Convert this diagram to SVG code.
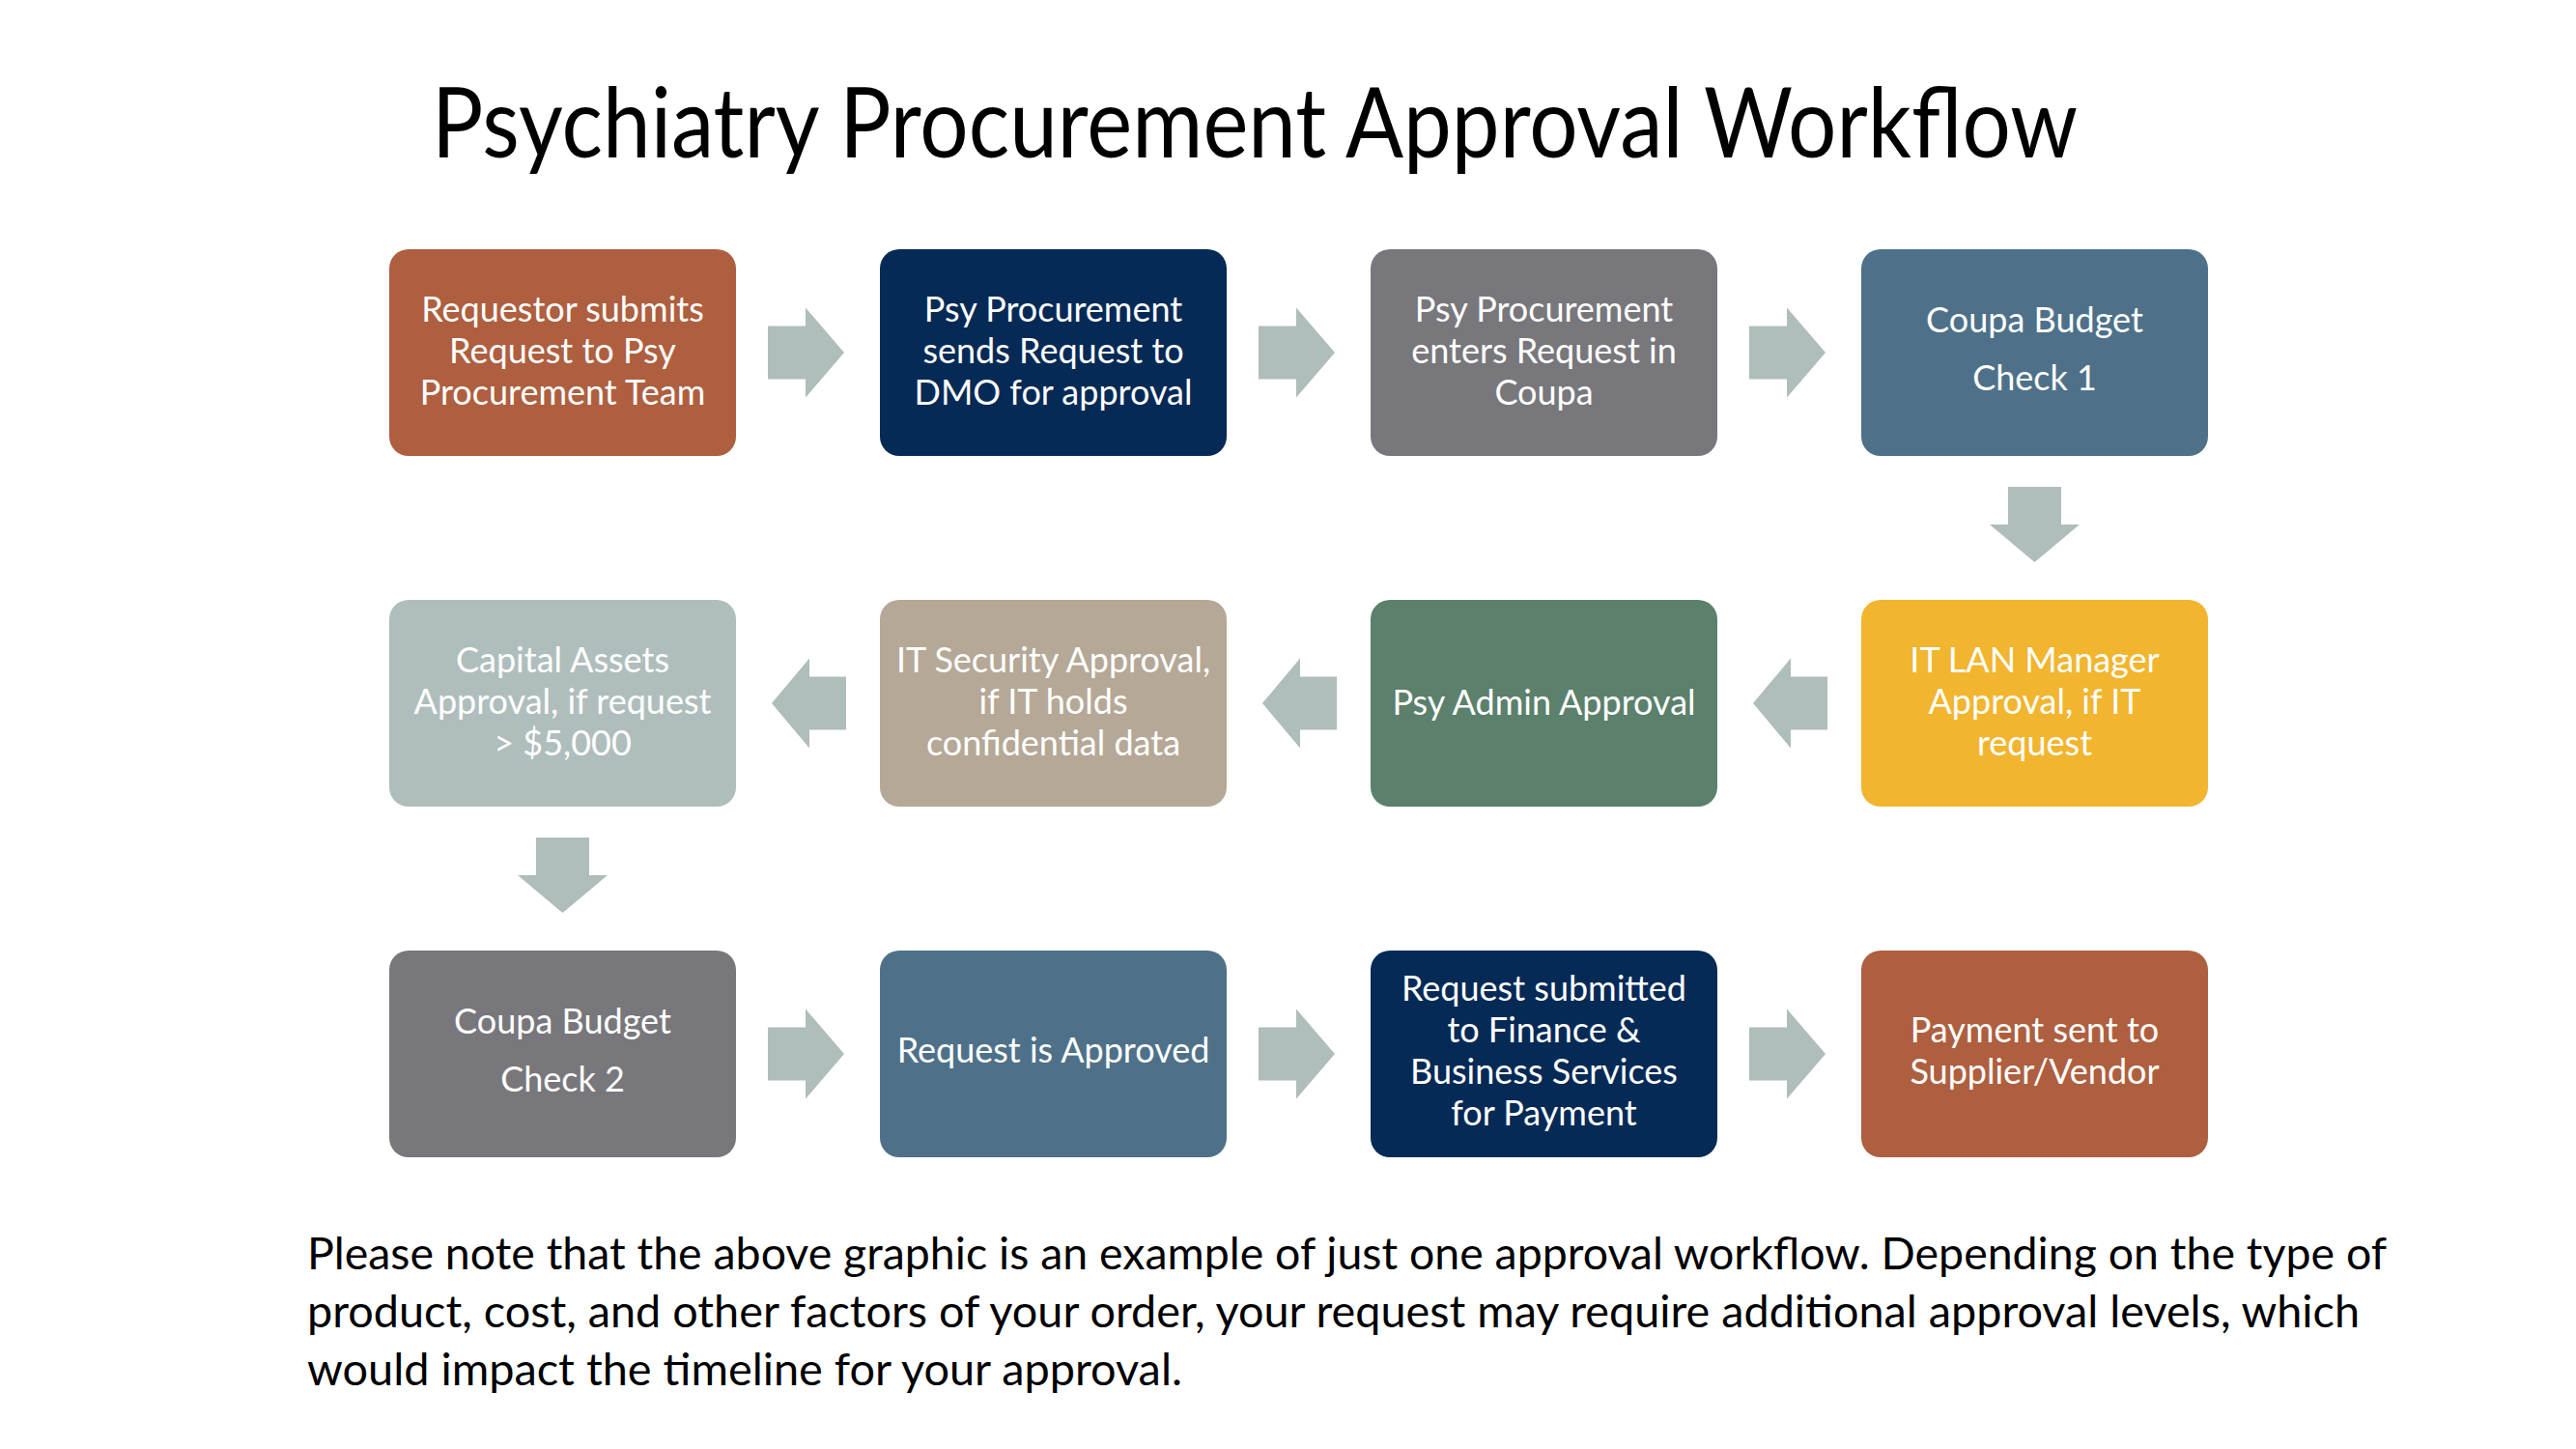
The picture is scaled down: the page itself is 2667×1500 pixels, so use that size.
<svg xmlns="http://www.w3.org/2000/svg" width="2667" height="1500" viewBox="0 0 2667 1500">
<style>
.box{stroke:none}
.t{font-family:Lato,"Open Sans","Liberation Sans",sans-serif;font-size:36px;fill:#ffffff;text-anchor:middle}
.arr{fill:#AFBDBB}
.title{font-family:Lato,"Open Sans","Liberation Sans",sans-serif;font-weight:400;font-size:100px;fill:#000000}
.note{font-family:Lato,"Open Sans","Liberation Sans",sans-serif;font-size:47px;fill:#000000}
</style>
<rect width="2667" height="1500" fill="#ffffff"/>
<text class="title" x="447" y="163" textLength="1704" lengthAdjust="spacingAndGlyphs">Psychiatry Procurement Approval Workflow</text>

<g id="n1"><rect class="box" x="403" y="258" width="359" height="214" rx="20" fill="#AE5F40"/>
<text class="t" x="582.5" y="333">Requestor submits</text><text class="t" x="582.5" y="376">Request to Psy</text><text class="t" x="582.5" y="419">Procurement Team</text></g>
<g id="n2"><rect class="box" x="911" y="258" width="359" height="214" rx="20" fill="#062A56"/>
<text class="t" x="1090.5" y="333">Psy Procurement</text><text class="t" x="1090.5" y="376">sends Request to</text><text class="t" x="1090.5" y="419">DMO for approval</text></g>
<g id="n3"><rect class="box" x="1419" y="258" width="359" height="214" rx="20" fill="#78777C"/>
<text class="t" x="1598.5" y="333">Psy Procurement</text><text class="t" x="1598.5" y="376">enters Request in</text><text class="t" x="1598.5" y="419">Coupa</text></g>
<g id="n4"><rect class="box" x="1927" y="258" width="359" height="214" rx="20" fill="#4E7189"/>
<text class="t" x="2106.5" y="344">Coupa Budget</text><text class="t" x="2106.5" y="404">Check 1</text></g>

<g id="n5"><rect class="box" x="1927" y="621" width="359" height="214" rx="20" fill="#F1B52F"/>
<text class="t" x="2106.5" y="696">IT LAN Manager</text><text class="t" x="2106.5" y="739">Approval, if IT</text><text class="t" x="2106.5" y="782">request</text></g>
<g id="n6"><rect class="box" x="1419" y="621" width="359" height="214" rx="20" fill="#5B806C"/>
<text class="t" x="1598.5" y="740">Psy Admin Approval</text></g>
<g id="n7"><rect class="box" x="911" y="621" width="359" height="214" rx="20" fill="#B5A897"/>
<text class="t" x="1090.5" y="696">IT Security Approval,</text><text class="t" x="1090.5" y="739">if IT holds</text><text class="t" x="1090.5" y="782">confidential data</text></g>
<g id="n8"><rect class="box" x="403" y="621" width="359" height="214" rx="20" fill="#AFBEBC"/>
<text class="t" x="582.5" y="696">Capital Assets</text><text class="t" x="582.5" y="739">Approval, if request</text><text class="t" x="582.5" y="782">&gt; $5,000</text></g>

<g id="n9"><rect class="box" x="403" y="984" width="359" height="214" rx="20" fill="#78777C"/>
<text class="t" x="582.5" y="1070">Coupa Budget</text><text class="t" x="582.5" y="1130">Check 2</text></g>
<g id="n10"><rect class="box" x="911" y="984" width="359" height="214" rx="20" fill="#4E7189"/>
<text class="t" x="1090.5" y="1100">Request is Approved</text></g>
<g id="n11"><rect class="box" x="1419" y="984" width="359" height="214" rx="20" fill="#062A56"/>
<text class="t" x="1598.5" y="1036">Request submitted</text><text class="t" x="1598.5" y="1079">to Finance &amp;</text><text class="t" x="1598.5" y="1122">Business Services</text><text class="t" x="1598.5" y="1165">for Payment</text></g>
<g id="n12"><rect class="box" x="1927" y="984" width="359" height="214" rx="20" fill="#AE5F40"/>
<text class="t" x="2106.5" y="1079">Payment sent to</text><text class="t" x="2106.5" y="1122">Supplier/Vendor</text></g>

<g id="connectors">
<polygon class="arr" points="795,337.5 834,337.5 834,318.5 874,365 834,411.5 834,392.5 795,392.5"/>
<polygon class="arr" points="1303,337.5 1342,337.5 1342,318.5 1382,365 1342,411.5 1342,392.5 1303,392.5"/>
<polygon class="arr" points="1811,337.5 1850,337.5 1850,318.5 1890,365 1850,411.5 1850,392.5 1811,392.5"/>
<polygon class="arr" points="2079,504 2134,504 2134,543 2153,543 2106.5,582 2060,543 2079,543"/>
<polygon class="arr" points="1815,728 1854,681.5 1854,700.5 1892,700.5 1892,755.5 1854,755.5 1854,774.5"/>
<polygon class="arr" points="1307,728 1346,681.5 1346,700.5 1384,700.5 1384,755.5 1346,755.5 1346,774.5"/>
<polygon class="arr" points="799,728 838,681.5 838,700.5 876,700.5 876,755.5 838,755.5 838,774.5"/>
<polygon class="arr" points="555,867 610,867 610,906 629,906 582.5,945 536,906 555,906"/>
<polygon class="arr" points="795,1063.5 834,1063.5 834,1044.5 874,1091 834,1137.5 834,1118.5 795,1118.5"/>
<polygon class="arr" points="1303,1063.5 1342,1063.5 1342,1044.5 1382,1091 1342,1137.5 1342,1118.5 1303,1118.5"/>
<polygon class="arr" points="1811,1063.5 1850,1063.5 1850,1044.5 1890,1091 1850,1137.5 1850,1118.5 1811,1118.5"/>
</g>

<text class="note" x="318" y="1314" textLength="2153" lengthAdjust="spacingAndGlyphs">Please note that the above graphic is an example of just one approval workflow. Depending on the type of</text>
<text class="note" x="318" y="1374" textLength="2125" lengthAdjust="spacingAndGlyphs">product, cost, and other factors of your order, your request may require additional approval levels, which</text>
<text class="note" x="318" y="1434" textLength="906" lengthAdjust="spacingAndGlyphs">would impact the timeline for your approval.</text>
</svg>
